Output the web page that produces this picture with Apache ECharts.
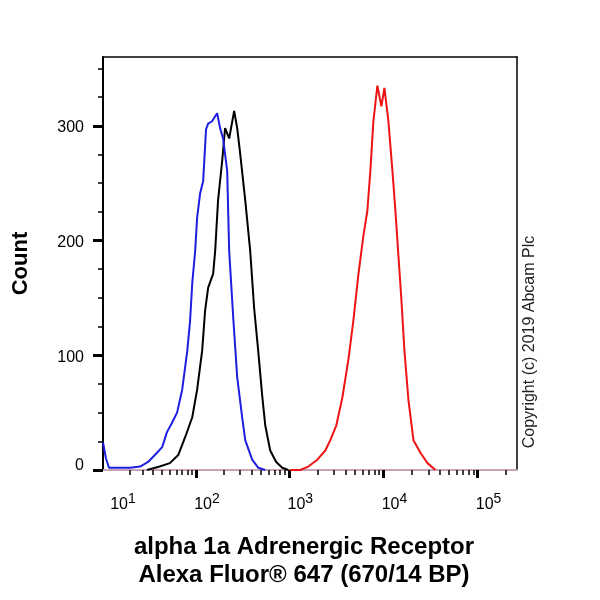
<!DOCTYPE html>
<html>
<head>
<meta charset="utf-8">
<script src="https://cdn.jsdelivr.net/npm/echarts@6/dist/echarts.min.js"></script>
<style>
html, body { margin: 0; padding: 0; background: #fff; }
#chart { width: 600px; height: 600px; }
</style>
</head>
<body>
<div id="chart"></div>
<script>
var chart = echarts.init(document.getElementById('chart'));

// [fluorescence, count]
var blueData = [
    [-9.5, 24], [-7.3, 10], [-5.1, 2], [0.6, 2], [10, 2], [18, 3], [25, 7], [34, 15],
    [40, 20], [46, 33], [53, 41], [61, 50], [70, 70], [80, 104], [86, 130], [91, 163],
    [98, 191], [103, 220], [111, 241], [120, 252], [129, 297], [136, 302], [150, 304],
    [170, 311], [183, 298], [197, 289], [218, 261], [229, 191], [253, 133], [279, 81],
    [315, 46], [340, 26], [403, 9], [467, 2], [555, 0]
];
var blackData = [
    [24, 0], [37, 3], [50, 6], [63, 13], [76, 29], [91, 46], [103, 70], [117, 104],
    [126, 139], [136, 159], [154, 171], [162, 191], [174, 235], [193, 270], [207, 298],
    [229, 289], [259, 313], [279, 298], [300, 276], [340, 235], [384, 191], [423, 141],
    [467, 104], [515, 65], [555, 39], [627, 17], [726, 7], [842, 2], [975, 0]
];
var redData = [
    [1024, 0], [1309, 0], [1592, 3], [1984, 9], [2414, 17], [2728, 26], [3160, 39],
    [3659, 63], [4239, 96], [4790, 130], [5414, 170], [6122, 204], [6750, 226],
    [7265, 261], [7818, 304], [8624, 335], [9510, 317], [10237, 333], [11290, 304],
    [12451, 261], [13401, 226], [14425, 187], [15525, 148], [16712, 104], [18433, 61],
    [20836, 26], [24737, 15], [29348, 6], [35716, 0]
];

var xMin = -9.5, xMax = 262144;
var xMajor = [100, 1000, 10000, 100000];
var xLabelVals = [10, 100, 1000, 10000, 100000];
var xMinor = [10];
[10, 100, 1000, 10000].forEach(function (d) {
    for (var m = 2; m <= 9; m++) xMinor.push(m * d);
});
xMinor.push(200000);

var yMax = 360;
var yMajor = [0, 100, 200, 300];
var yMinor = [25, 50, 75, 125, 150, 175, 225, 250, 275, 325, 350];

// biexponential-like display scale
function T(v) { return Math.asinh(v / 29) / Math.LN10; }
function conv(arr) { return arr.map(function (d) { return [T(d[0]), d[1]]; }); }

var font = 'Liberation Sans, Arial, sans-serif';

var option = {
    backgroundColor: '#fff',
    animation: false,
    grid: { left: 103, right: 83, top: 57, bottom: 130, outerBoundsMode: 'none', containLabel: false },
    xAxis: [{
        type: 'value',
        position: 'bottom',
        min: T(xMin),
        max: T(xMax),
        name: 'alpha 1a Adrenergic Receptor\nAlexa Fluor® 647 (670/14 BP)',
        nameLocation: 'middle',
        nameGap: 63,
        nameTextStyle: {
            color: '#000', fontSize: 24, fontWeight: 'bold', fontFamily: font,
            lineHeight: 28, padding: [0, 12, 0, 0]
        },
        axisLine: { show: true, onZero: false, lineStyle: { color: '#c9a3b6', width: 2 } },
        axisTick: { show: true, customValues: xMajor.map(T), length: 8, lineStyle: { color: '#000', width: 3 } },
        axisLabel: {
            customValues: xLabelVals.map(T),
            margin: 22,
            formatter: function (val) {
                var e = Math.round(Math.log10(29 * Math.sinh(val * Math.LN10)));
                if (e === 1) return '{a|10}{s1|' + e + '}';
                return '{b|10}{s|' + e + '}';
            },
            rich: {
                a: { fontSize: 16, fontFamily: font, color: '#000' },
                b: { fontSize: 16, fontFamily: font, color: '#000', padding: [0, 0, 0, 22] },
                s: { fontSize: 14, fontFamily: font, color: '#000', padding: [0, 0, 12, 0] },
                s1: { fontSize: 14, fontFamily: font, color: '#000', padding: [0, 14, 12, 0] }
            }
        },
        splitLine: { show: false }
    }, {
        type: 'value',
        position: 'bottom',
        min: T(xMin),
        max: T(xMax),
        axisLine: { show: false, onZero: false },
        axisTick: { show: true, customValues: xMinor.map(T), length: 5, lineStyle: { color: '#000', width: 1.5 } },
        axisLabel: { show: false },
        splitLine: { show: false }
    }, {
        type: 'value',
        position: 'top',
        min: T(xMin),
        max: T(xMax),
        axisLine: { show: true, onZero: false, lineStyle: { color: '#000', width: 1.5 } },
        axisTick: { show: false },
        axisLabel: { show: false },
        splitLine: { show: false }
    }],
    yAxis: [{
        type: 'value',
        position: 'left',
        min: 0,
        max: yMax,
        name: 'Count',
        nameLocation: 'middle',
        nameGap: 71,
        nameTextStyle: { color: '#000', fontSize: 22, fontWeight: 'bold', fontFamily: font },
        axisLine: { show: true, onZero: false, lineStyle: { color: '#000', width: 2 } },
        axisTick: { show: true, customValues: yMajor, length: 10, lineStyle: { color: '#000', width: 3 } },
        axisLabel: {
            customValues: yMajor,
            margin: 19,
            fontSize: 16,
            fontFamily: font,
            color: '#000',
            formatter: function (v) { return v === 0 ? '{z|0}' : '{n|' + v + '}'; },
            rich: {
                z: { fontSize: 16, fontFamily: font, color: '#000', padding: [0, 0, 8, 0] },
                n: { fontSize: 16, fontFamily: font, color: '#000', padding: [4, 0, 0, 0] }
            }
        },
        splitLine: { show: false }
    }, {
        type: 'value',
        position: 'left',
        min: 0,
        max: yMax,
        axisLine: { show: false, onZero: false },
        axisTick: { show: true, customValues: yMinor, length: 5, lineStyle: { color: '#000', width: 1.5 } },
        axisLabel: { show: false },
        splitLine: { show: false }
    }, {
        type: 'value',
        position: 'right',
        min: 0,
        max: yMax,
        axisLine: { show: true, onZero: false, lineStyle: { color: '#000', width: 1.5 } },
        axisTick: { show: false },
        axisLabel: { show: false },
        splitLine: { show: false }
    }],
    graphic: [{
        type: 'text',
        x: 530,
        y: 342,
        rotation: Math.PI / 2,
        style: {
            text: 'Copyright (c) 2019 Abcam Plc',
            fontSize: 16,
            fontFamily: font,
            fill: '#222',
            align: 'center',
            verticalAlign: 'middle'
        }
    }],
    series: [{
        name: 'black',
        type: 'line',
        showSymbol: false,
        xAxisIndex: 0,
        yAxisIndex: 0,
        lineStyle: { color: '#000', width: 2 },
        itemStyle: { color: '#000' },
        data: conv(blackData)
    }, {
        name: 'blue',
        type: 'line',
        showSymbol: false,
        xAxisIndex: 0,
        yAxisIndex: 0,
        lineStyle: { color: '#1e1ee0', width: 2 },
        itemStyle: { color: '#1e1ee0' },
        data: conv(blueData)
    }, {
        name: 'red',
        type: 'line',
        showSymbol: false,
        xAxisIndex: 0,
        yAxisIndex: 0,
        lineStyle: { color: '#ee1414', width: 2 },
        itemStyle: { color: '#ee1414' },
        data: conv(redData)
    }]
};
chart.setOption(option);
</script>
</body>
</html>
